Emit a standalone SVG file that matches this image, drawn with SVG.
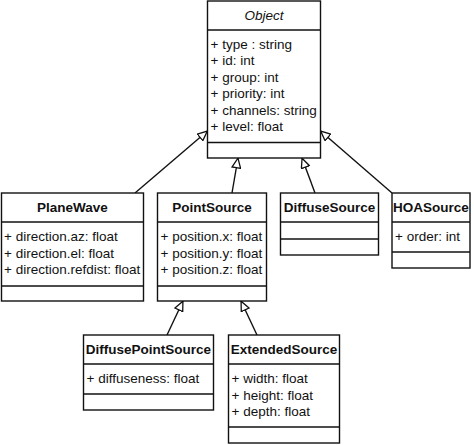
<svg xmlns="http://www.w3.org/2000/svg" width="474" height="445" viewBox="0 0 474 445">
<defs>
<style>
.box{fill:#fff;stroke:#111;stroke-width:1.4}
.sep{stroke:#111;stroke-width:1.4}
.t{font-family:"Liberation Sans",Arial,Helvetica,sans-serif;font-size:13.5px;fill:#111}
.title{font-weight:bold;text-anchor:middle}
.ital{font-style:italic;text-anchor:middle}
.edge{stroke:#111;stroke-width:1.4;fill:none;marker-end:url(#gen)}
</style>
<marker id="gen" viewBox="0 0 11 10" refX="10.5" refY="5" markerWidth="11" markerHeight="10" markerUnits="userSpaceOnUse" orient="auto">
<path d="M0.7,0.7 L10.3,5 L0.7,9.3 Z" fill="#fff" stroke="#111" stroke-width="1.3"/>
</marker>
</defs>
<g id="connectors">
<line class="edge" x1="135" y1="193" x2="207.5" y2="131"/>
<line class="edge" x1="232" y1="193" x2="238" y2="158"/>
<line class="edge" x1="315" y1="193" x2="302" y2="158"/>
<line class="edge" x1="392" y1="193" x2="320.5" y2="131"/>
<line class="edge" x1="167" y1="335" x2="183" y2="301"/>
<line class="edge" x1="257" y1="335" x2="241" y2="301"/>
</g>
<g id="Object">
<rect class="box" x="207.5" y="1" width="113" height="157"/>
<line class="sep" x1="207.5" y1="30" x2="320.5" y2="30"/>
<line class="sep" x1="207.5" y1="142.5" x2="320.5" y2="142.5"/>
<text class="t ital" x="264" y="19.5">Object</text>
<text class="t" x="210.5" y="48.5">+ type : string</text>
<text class="t" x="210.5" y="65">+ id: int</text>
<text class="t" x="210.5" y="81.5">+ group: int</text>
<text class="t" x="210.5" y="98">+ priority: int</text>
<text class="t" x="210.5" y="114.5">+ channels: string</text>
<text class="t" x="210.5" y="131">+ level: float</text>
</g>
<g id="PlaneWave">
<rect class="box" x="1.5" y="193" width="142" height="108"/>
<line class="sep" x1="1.5" y1="222" x2="143.5" y2="222"/>
<line class="sep" x1="1.5" y1="286" x2="143.5" y2="286"/>
<text class="t title" x="72.5" y="212">PlaneWave</text>
<text class="t" x="4" y="241">+ direction.az: float</text>
<text class="t" x="4" y="257.5">+ direction.el: float</text>
<text class="t" x="4" y="274">+ direction.refdist: float</text>
</g>
<g id="PointSource">
<rect class="box" x="157.5" y="193" width="109" height="108"/>
<line class="sep" x1="157.5" y1="222" x2="266.5" y2="222"/>
<line class="sep" x1="157.5" y1="286" x2="266.5" y2="286"/>
<text class="t title" x="212" y="212">PointSource</text>
<text class="t" x="160.5" y="241">+ position.x: float</text>
<text class="t" x="160.5" y="257.5">+ position.y: float</text>
<text class="t" x="160.5" y="274">+ position.z: float</text>
</g>
<g id="DiffuseSource">
<rect class="box" x="280.5" y="193" width="98" height="62"/>
<line class="sep" x1="280.5" y1="222" x2="378.5" y2="222"/>
<line class="sep" x1="280.5" y1="239" x2="378.5" y2="239"/>
<text class="t title" x="329.5" y="212">DiffuseSource</text>
</g>
<g id="HOASource">
<rect class="box" x="392" y="193" width="78" height="75"/>
<line class="sep" x1="392" y1="222" x2="470" y2="222"/>
<line class="sep" x1="392" y1="252" x2="470" y2="252"/>
<text class="t title" x="431" y="212">HOASource</text>
<text class="t" x="395" y="241">+ order: int</text>
</g>
<g id="DiffusePointSource">
<rect class="box" x="83.5" y="335" width="130" height="75"/>
<line class="sep" x1="83.5" y1="364" x2="213.5" y2="364"/>
<line class="sep" x1="83.5" y1="394" x2="213.5" y2="394"/>
<text class="t title" x="148.5" y="354">DiffusePointSource</text>
<text class="t" x="86.5" y="383">+ diffuseness: float</text>
</g>
<g id="ExtendedSource">
<rect class="box" x="228.5" y="335" width="111" height="108"/>
<line class="sep" x1="228.5" y1="364" x2="339.5" y2="364"/>
<line class="sep" x1="228.5" y1="427" x2="339.5" y2="427"/>
<text class="t title" x="284" y="354">ExtendedSource</text>
<text class="t" x="231.5" y="383">+ width: float</text>
<text class="t" x="231.5" y="399.5">+ height: float</text>
<text class="t" x="231.5" y="416">+ depth: float</text>
</g>
</svg>
